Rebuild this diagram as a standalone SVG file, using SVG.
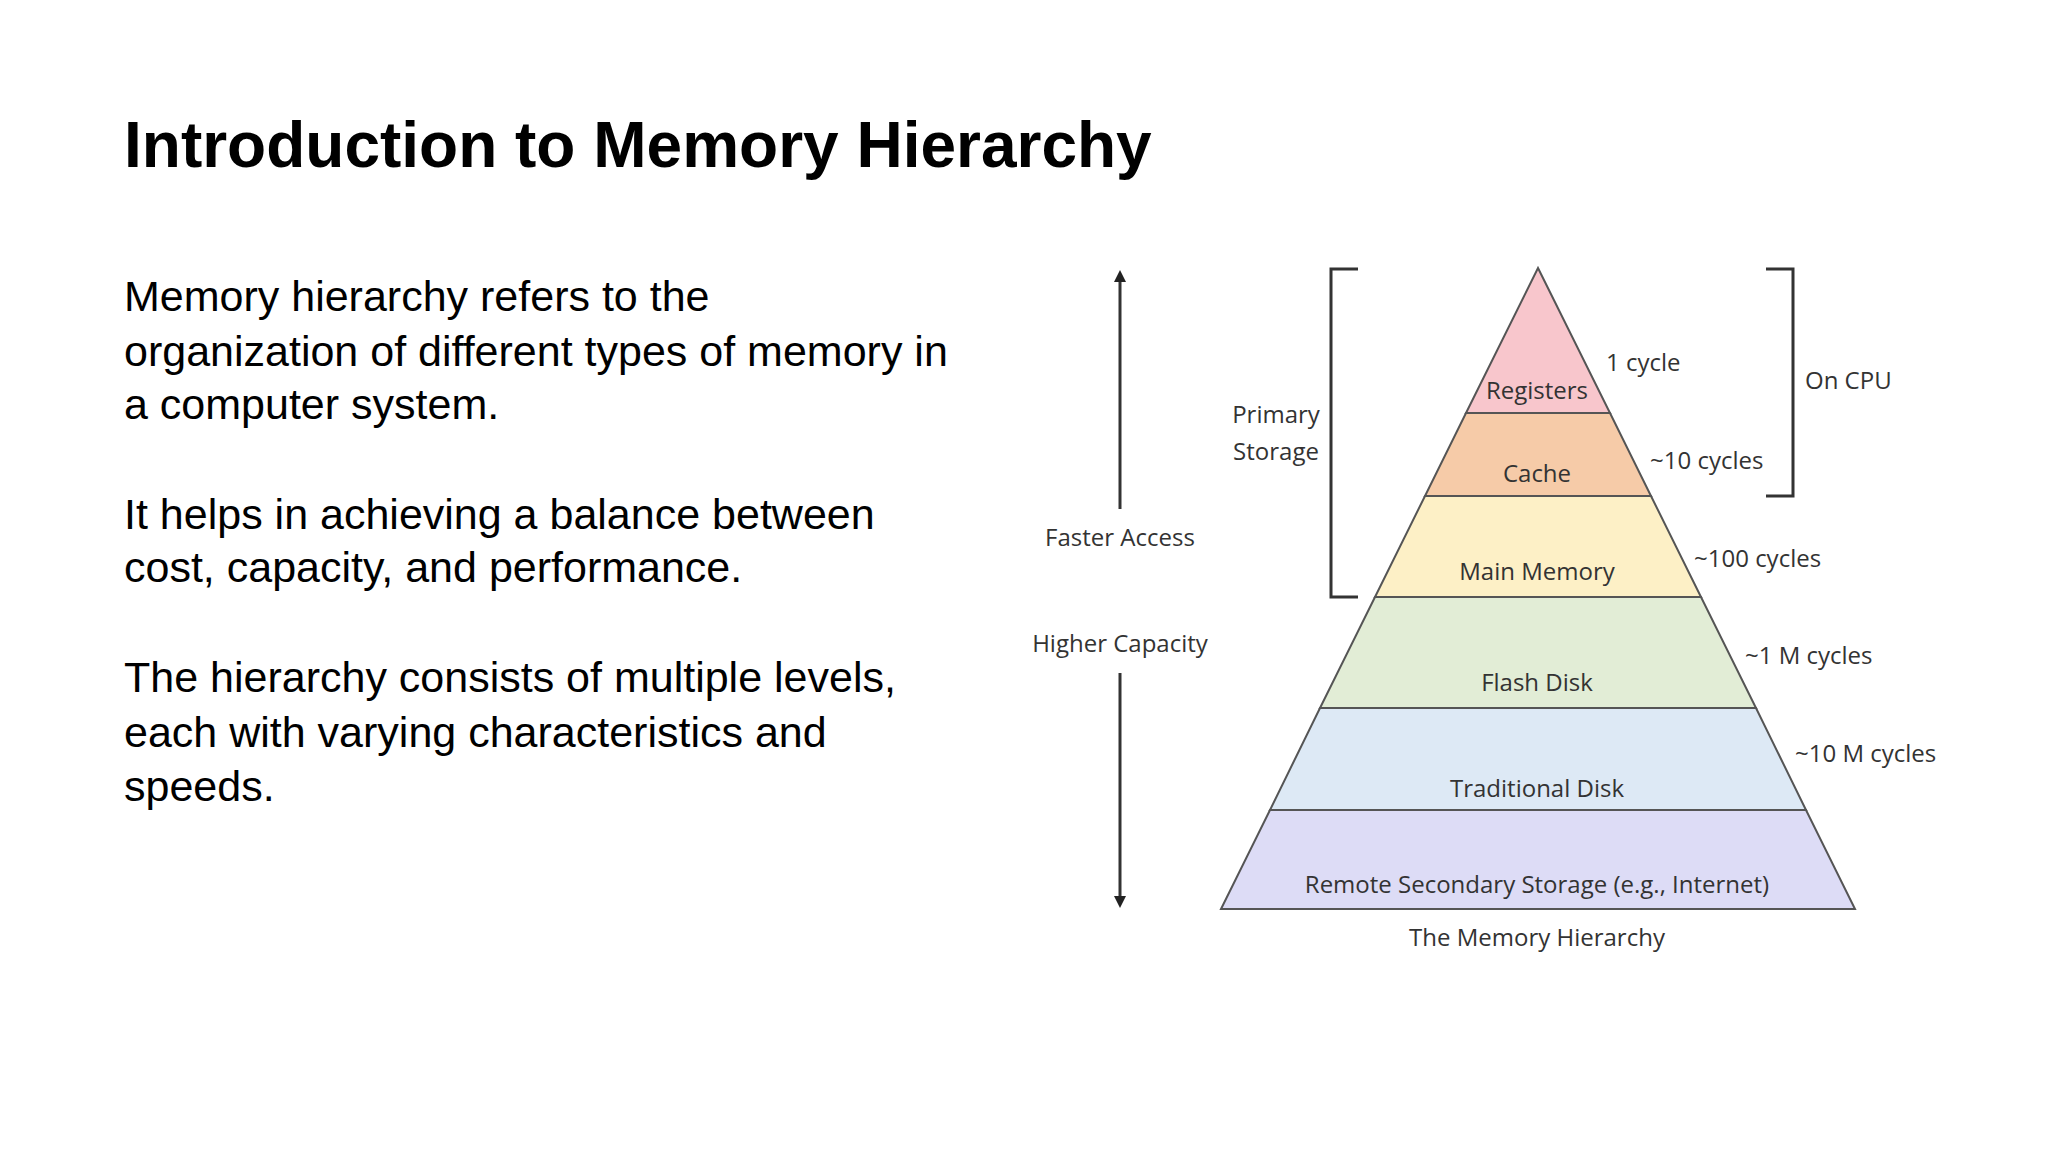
<svg xmlns="http://www.w3.org/2000/svg" width="2048" height="1152" viewBox="0 0 2048 1152">
<style>
.t{font-family:"Liberation Sans",Arial,sans-serif;fill:#000}
.l{font-family:"Open Sans","Liberation Sans",sans-serif;font-size:24px;fill:#333;text-anchor:middle}
.r{font-family:"Open Sans","Liberation Sans",sans-serif;font-size:24px;fill:#333}
.b{fill:none;stroke:#333;stroke-width:3}
.p{stroke:#555;stroke-width:2}
</style>
<defs><marker id="ah" viewBox="0 0 10 10" refX="5" refY="5" markerWidth="4" markerHeight="5" orient="auto-start-reverse"><path d="M0,0 L10,5 L0,10 z" fill="#222"/></marker></defs>
<rect width="2048" height="1152" fill="#fff"/>
<text class="t" x="124" y="167" font-size="64" font-weight="bold">Introduction to Memory Hierarchy</text>
<g class="t" font-size="43">
<text x="124" y="311">Memory hierarchy refers to the</text>
<text x="124" y="366">organization of different types of memory in</text>
<text x="124" y="419">a computer system.</text>
<text x="124" y="529">It helps in achieving a balance between</text>
<text x="124" y="582">cost, capacity, and performance.</text>
<text x="124" y="692">The hierarchy consists of multiple levels,</text>
<text x="124" y="747">each with varying characteristics and</text>
<text x="124" y="801">speeds.</text>
</g>
<g id="registers"><polygon class="p" points="1538,268 1610,413 1466,413" fill="#f8c6cc"/><text class="l" x="1537" y="399">Registers</text></g>
<g id="cache"><polygon class="p" points="1466,413 1610,413 1651,496 1425,496" fill="#f6cba8"/><text class="l" x="1537" y="482">Cache</text></g>
<g id="main"><polygon class="p" points="1425,496 1651,496 1701,597 1375,597" fill="#fdf0c6"/><text class="l" x="1537" y="580">Main Memory</text></g>
<g id="flash"><polygon class="p" points="1375,597 1701,597 1756,708 1320,708" fill="#e2edd6"/><text class="l" x="1537" y="691">Flash Disk</text></g>
<g id="trad"><polygon class="p" points="1320,708 1756,708 1806,810 1270,810" fill="#dde9f5"/><text class="l" x="1537" y="797">Traditional Disk</text></g>
<g id="remote"><polygon class="p" points="1270,810 1806,810 1855,909 1221,909" fill="#dddcf6"/><text class="l" x="1537" y="893">Remote Secondary Storage (e.g., Internet)</text></g>
<text class="l" x="1537" y="946">The Memory Hierarchy</text>
<g id="latencies">
<text class="r" x="1606" y="371">1 cycle</text>
<text class="r" x="1650" y="469">~10 cycles</text>
<text class="r" x="1694" y="567">~100 cycles</text>
<text class="r" x="1745" y="664">~1 M cycles</text>
<text class="r" x="1795" y="762">~10 M cycles</text>
<text class="r" x="1805" y="389">On CPU</text>
<text class="l" x="1276" y="423">Primary</text>
<text class="l" x="1276" y="460">Storage</text>
<text class="l" x="1120" y="546">Faster Access</text>
<text class="l" x="1120" y="652">Higher Capacity</text>
</g>
<g id="connectors">
<line class="b" x1="1120" y1="276" x2="1120" y2="509" marker-start="url(#ah)"/>
<line class="b" x1="1120" y1="673" x2="1120" y2="902" marker-end="url(#ah)"/>
<path class="b" d="M1358,269 H1331 V597 H1358"/>
<path class="b" d="M1766,269 H1793 V496 H1766"/>
</g>
</svg>
